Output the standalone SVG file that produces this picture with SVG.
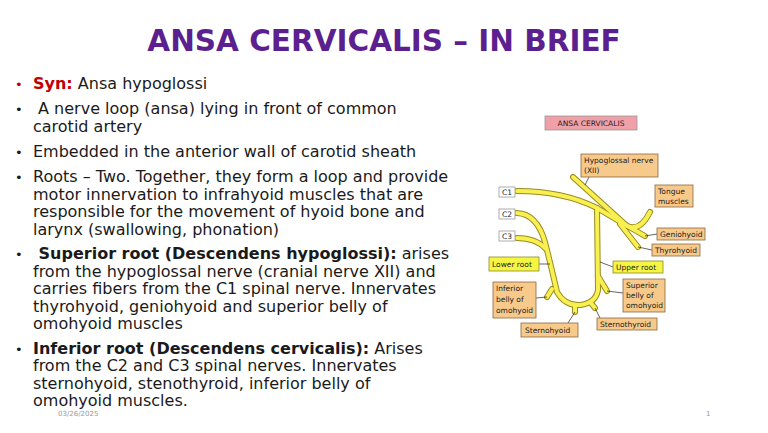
<svg xmlns="http://www.w3.org/2000/svg" width="768" height="433" viewBox="0 0 768 433">
<style>
.t{font-family:"DejaVu Sans",sans-serif;font-size:16px;fill:#1a1a1a}
.b{font-weight:bold}
.bul{font-family:"DejaVu Sans",sans-serif;font-size:13px;fill:#1a1a1a}
.lb{fill:#f7c98b;stroke:#8a6a40;stroke-width:0.8}
.ly{fill:#f5f542;stroke:#8a8a30;stroke-width:0.8}
.lw{fill:#fff;stroke:#999;stroke-width:0.8}
.lt{font-family:"Comic Sans MS","DejaVu Sans",sans-serif;font-size:7.5px;fill:#222}
.no{fill:none;stroke:#9a8a20;stroke-width:6;stroke-linecap:round;stroke-linejoin:round}
.ni{fill:none;stroke:#f8f050;stroke-width:4;stroke-linecap:round;stroke-linejoin:round}
.pt{stroke:#222;stroke-width:0.7;fill:none}
</style>
<rect width="768" height="433" fill="#fff"/>
<text x="384" y="51" text-anchor="middle" font-family="DejaVu Sans,sans-serif" font-weight="bold" font-size="29.5" fill="#5b1f8f">ANSA CERVICALIS – IN BRIEF</text>
<g id="text">
<text x="15" y="89" class="bul" style="fill:#c00000">•</text>
<text x="33" y="89" class="t"><tspan class="b" style="fill:#c00000">Syn:</tspan> Ansa hypoglossi</text>
<text x="15" y="114" class="bul">•</text>
<text x="33" y="114" class="t">&#160;A nerve loop (ansa) lying in front of common</text>
<text x="33" y="132" class="t">carotid artery</text>
<text x="15" y="157" class="bul">•</text>
<text x="33" y="157" class="t">Embedded in the anterior wall of carotid sheath</text>
<text x="15" y="182" class="bul">•</text>
<text x="33" y="182" class="t">Roots – Two. Together, they form a loop and provide</text>
<text x="33" y="200" class="t">motor innervation to infrahyoid muscles that are</text>
<text x="33" y="217" class="t">responsible for the movement of hyoid bone and</text>
<text x="33" y="235" class="t">larynx (swallowing, phonation)</text>
<text x="15" y="259" class="bul">•</text>
<text x="33" y="259" class="t"><tspan class="b">&#160;Superior root (Descendens hypoglossi):</tspan> arises</text>
<text x="33" y="277" class="t">from the hypoglossal nerve (cranial nerve XII) and</text>
<text x="33" y="294" class="t">carries fibers from the C1 spinal nerve. Innervates</text>
<text x="33" y="312" class="t">thyrohyoid, geniohyoid and superior belly of</text>
<text x="33" y="329" class="t">omohyoid muscles</text>
<text x="15" y="354" class="bul">•</text>
<text x="33" y="354" class="t"><tspan class="b">Inferior root (Descendens cervicalis):</tspan> Arises</text>
<text x="33" y="371" class="t">from the C2 and C3 spinal nerves. Innervates</text>
<text x="33" y="389" class="t">sternohyoid, stenothyroid, inferior belly of</text>
<text x="33" y="406" class="t">omohyoid muscles.</text>
<text x="58" y="416" font-family="DejaVu Sans,sans-serif" font-size="7" fill="#999">03/26/2025</text>
<text x="706" y="416" font-family="DejaVu Sans,sans-serif" font-size="7" fill="#999">1</text>
</g>
<g id="connectors">
<g id="nerves-outline">
<path class="no" d="M573 177 L627 226 Q640 232 650 212"/>
<path class="no" d="M517 191 Q563 191 597 208 Q620 222 645 236"/>
<path class="no" d="M620 224 L638 247"/>
<path class="no" d="M597 208 L598 290 Q596 303 580 305"/>
<path class="no" d="M517 213 Q537 214 545 242 Q552 270 557 292 Q565 306 580 305"/>
<path class="no" d="M517 238 Q536 238 546 249"/>
<path class="no" d="M552 289 L547 297"/>
<path class="no" d="M575 305 L575 312"/>
<path class="no" d="M590 302 L595 308"/>
<path class="no" d="M598 276 L607 291"/>
</g>
<g id="nerves-fill">
<path class="ni" d="M573 177 L627 226 Q640 232 650 212"/>
<path class="ni" d="M517 191 Q563 191 597 208 Q620 222 645 236"/>
<path class="ni" d="M620 224 L638 247"/>
<path class="ni" d="M597 208 L598 290 Q596 303 580 305"/>
<path class="ni" d="M517 213 Q537 214 545 242 Q552 270 557 292 Q565 306 580 305"/>
<path class="ni" d="M517 238 Q536 238 546 249"/>
<path class="ni" d="M552 289 L547 297"/>
<path class="ni" d="M575 305 L575 312"/>
<path class="ni" d="M590 302 L595 308"/>
<path class="ni" d="M598 276 L607 291"/>
</g>
<path class="pt" d="M589 177 L585 185"/>
<path class="pt" d="M645 236 L657 234"/>
<path class="pt" d="M638 247 L652 250"/>
<path class="pt" d="M539 264 L550 264"/>
<path class="pt" d="M600 262 L613 267"/>
<path class="pt" d="M536 298 L547 297"/>
<path class="pt" d="M607 291 L623 293"/>
<path class="pt" d="M575 312 L568 323"/>
<path class="pt" d="M595 308 L600 318"/>
</g>
<g id="ansa-title"><rect x="545" y="116" width="92" height="14" fill="#f2a0a8" stroke="#999" stroke-width="0.8"/><text x="591" y="126" text-anchor="middle" class="lt">ANSA CERVICALIS</text></g>
<g id="hypoglossal"><rect x="581" y="154" width="77" height="23" class="lb"/><text x="584" y="163" class="lt">Hypoglossal nerve</text><text x="584" y="173" class="lt">(XII)</text></g>
<g id="c1"><rect x="499" y="187" width="16" height="10" class="lw"/><text x="507" y="195" text-anchor="middle" class="lt">C1</text></g>
<g id="c2"><rect x="499" y="209" width="16" height="10" class="lw"/><text x="507" y="217" text-anchor="middle" class="lt">C2</text></g>
<g id="c3"><rect x="499" y="231" width="16" height="10" class="lw"/><text x="507" y="239" text-anchor="middle" class="lt">C3</text></g>
<g id="tongue"><rect x="655" y="185" width="38" height="22" class="lb"/><text x="658" y="194" class="lt">Tongue</text><text x="658" y="204" class="lt">muscles</text></g>
<g id="geniohyoid"><rect x="657" y="228" width="48" height="12" class="lb"/><text x="660" y="237" class="lt">Geniohyoid</text></g>
<g id="thyrohyoid"><rect x="652" y="244" width="48" height="12" class="lb"/><text x="655" y="253" class="lt">Thyrohyoid</text></g>
<g id="lower-root"><rect x="489" y="257" width="50" height="14" class="ly"/><text x="492" y="267" class="lt">Lower root</text></g>
<g id="upper-root"><rect x="613" y="261" width="50" height="12" class="ly"/><text x="616" y="270" class="lt">Upper root</text></g>
<g id="inferior-belly"><rect x="493" y="282" width="43" height="36" class="lb"/><text x="496" y="291" class="lt">Inferior</text><text x="496" y="302" class="lt">belly of</text><text x="496" y="313" class="lt">omohyoid</text></g>
<g id="superior-belly"><rect x="623" y="279" width="42" height="33" class="lb"/><text x="626" y="288" class="lt">Superior</text><text x="626" y="298" class="lt">belly of</text><text x="626" y="308" class="lt">omohyoid</text></g>
<g id="sternothyroid"><rect x="597" y="318" width="60" height="12" class="lb"/><text x="600" y="327" class="lt">Sternothyroid</text></g>
<g id="sternohyoid"><rect x="521" y="323" width="57" height="14" class="lb"/><text x="525" y="333" class="lt">Sternohyoid</text></g>
</svg>
